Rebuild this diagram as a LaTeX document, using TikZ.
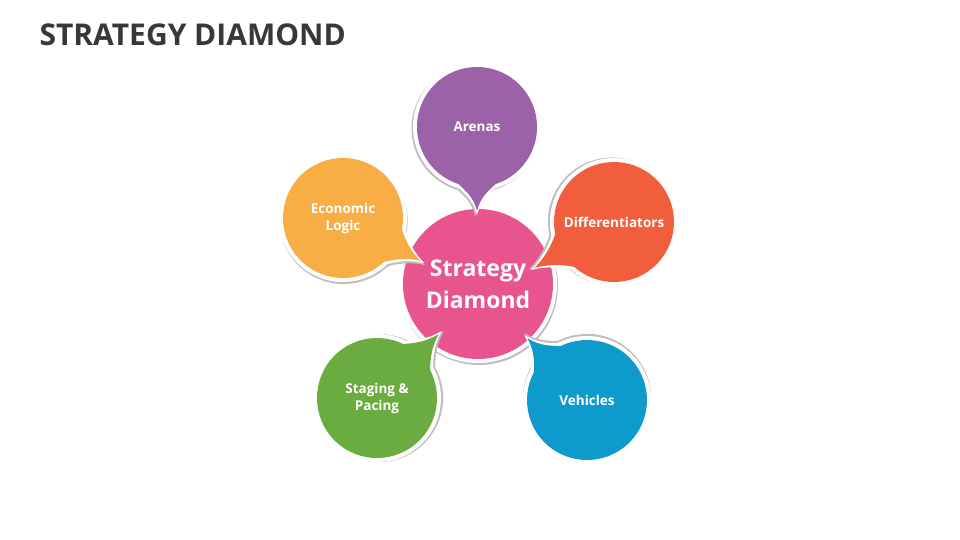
\documentclass[tikz,border=0pt]{standalone}
\usepackage{fontspec}
\setmainfont{Open Sans}
\begin{document}
\begin{tikzpicture}[x=1pt,y=-1pt]
\definecolor{cpur}{HTML}{9B62A7}
\definecolor{cora}{HTML}{F9AE45}
\definecolor{cred}{HTML}{F15E3C}
\definecolor{cgrn}{HTML}{6AAC3F}
\definecolor{cblu}{HTML}{0E9BCB}
\definecolor{cpnk}{HTML}{E8548E}
\tikzset{lbl/.style={text=white,font=\fontsize{13.5}{17}\selectfont\bfseries,align=center}}
\useasboundingbox (0,0) rectangle (960,540);
\node[anchor=west,font=\fontsize{30}{34}\selectfont\bfseries,text=black!78] (title) at (36,35) {STRATEGY DIAMOND};
% center
\fill[black!25] (479,286) circle (79);
\fill[white] (478,284) circle (79);
\fill[cpnk] (478,284) circle (75);
\node[text=white,font=\fontsize{23}{32}\selectfont\bfseries,align=center] (c) at (478,284) {Strategy\\Diamond};
\newcommand\bubble[6]{%
\begin{scope}[shift={#1},rotate=-#2]
\fill[black!25,shift={(1.5,1.5)}] (0,0) circle (64);
\fill[black!25,shift={(1.5,1.5)}] (25:60) .. controls (65,15) and (#4-15,5) .. (#4+3,0) .. controls (#4-15,-5) and (65,-15) .. (-25:60) -- cycle;
\fill[white] (0,0) circle (64);
\fill[white] (25:60) .. controls (65,15) and (#4-15,5) .. (#4+3,0) .. controls (#4-15,-5) and (65,-15) .. (-25:60) -- cycle;
\fill[#3] (0,0) circle (60);
\fill[#3] (22:58) .. controls (63,13) and (#4-17,4) .. (#4-1,0) .. controls (#4-17,-4) and (63,-13) .. (-22:58) -- cycle;
\end{scope}
\node[lbl] (#6) at #1 {#5};}
\bubble{(477,127)}{90}{cpur}{85}{Arenas}{b1}
\bubble{(343,218)}{29}{cora}{90}{Economic\\Logic}{b2}
\bubble{(614,222)}{150}{cred}{93}{Differentiators}{b3}
\bubble{(377,398)}{-46}{cgrn}{90}{Staging \&\\Pacing}{b4}
\bubble{(587,400)}{-134}{cblu}{87}{Vehicles}{b5}
\end{tikzpicture}
\end{document}
